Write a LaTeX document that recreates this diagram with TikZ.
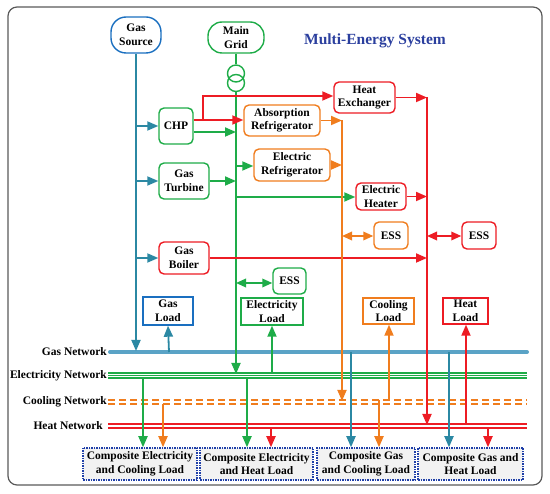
\documentclass[tikz,border=0pt]{standalone}
\usepackage{fontspec}
\setmainfont{Liberation Serif}
\usetikzlibrary{arrows.meta}
\definecolor{cgreen}{RGB}{30,172,72}
\definecolor{cred}{RGB}{237,28,36}
\definecolor{corange}{RGB}{240,125,30}
\definecolor{cteal}{RGB}{43,136,163}
\definecolor{cgasnet}{RGB}{90,163,198}
\definecolor{cblue}{RGB}{26,111,192}
\definecolor{ctitle}{RGB}{43,63,158}
\definecolor{ccomp}{RGB}{31,63,168}
\begin{document}
\begin{tikzpicture}[x=1pt,y=-1pt,
  every node/.style={font=\fontsize{11.5}{13.5}\selectfont\bfseries, align=center, inner sep=0pt},
  rbox/.style={draw, rounded corners=5pt, line width=1.4pt, fill=white},
  sbox/.style={draw, line width=1.4pt, fill=white},
  cbox/.style={draw=ccomp, densely dotted, line width=1.5pt, fill=gray!10, minimum height=32pt},
  ln/.style={line width=1.8pt},
  arr/.style={ln, -{Triangle[length=11pt,width=9pt]}},
  dbl/.style={ln, {Triangle[length=10pt,width=8.5pt]}-{Triangle[length=10pt,width=8.5pt]}},
  netlabel/.style={anchor=east}
]
\useasboundingbox (0,0) rectangle (550,494);
\draw[rounded corners=9pt, line width=1.2pt, gray!70!black] (8,7) rectangle (542,485);

% title
\node[text=ctitle, font=\fontsize{15.5}{18}\selectfont\bfseries] (title) at (375,41) {Multi-Energy System};

% sources
\node[rbox, draw=cblue, rounded corners=15pt, minimum width=50pt, minimum height=36pt] (gs) at (136,35) {Gas\\Source};
\node[rbox, draw=cgreen, rounded corners=14pt, minimum width=56pt, minimum height=31pt] (mg) at (236,37.5) {Main\\Grid};
\node[draw=cgreen, circle, line width=1.4pt, minimum size=17pt] (t1) at (236,73.5) {};
\node[draw=cgreen, circle, line width=1.4pt, minimum size=17pt] (t2) at (236,83) {};

% converters
\node[rbox, draw=cgreen, minimum width=34pt, minimum height=36pt] (chp) at (176,126) {CHP};
\node[rbox, draw=cgreen, minimum width=50pt, minimum height=36pt] (gt) at (184,181) {Gas\\Turbine};
\node[rbox, draw=cred, minimum width=50pt, minimum height=32pt] (gb) at (184,258) {Gas\\Boiler};
\node[rbox, draw=corange, minimum width=76pt, minimum height=31pt] (ar) at (282,120.5) {Absorption\\Refrigerator};
\node[rbox, draw=corange, minimum width=76pt, minimum height=32pt] (er) at (292,165) {Electric\\Refrigerator};
\node[rbox, draw=cred, minimum width=61pt, minimum height=31pt] (hx) at (364.5,97.5) {Heat\\Exchanger};
\node[rbox, draw=cred, minimum width=50pt, minimum height=27pt] (eh) at (381,196.5) {Electric\\Heater};
\node[rbox, draw=corange, minimum width=34pt, minimum height=27pt] (essc) at (391,235.5) {ESS};
\node[rbox, draw=cred, minimum width=34pt, minimum height=27pt] (essh) at (479,235.5) {ESS};
\node[rbox, draw=cgreen, minimum width=33pt, minimum height=26pt] (esse) at (289.5,281) {ESS};

% loads
\node[sbox, draw=cblue, minimum width=50pt, minimum height=28pt] (gl) at (168,311) {Gas\\Load};
\node[sbox, draw=cgreen, minimum width=62pt, minimum height=27pt] (el) at (272,311.5) {Electricity\\Load};
\node[sbox, draw=corange, minimum width=51pt, minimum height=26pt] (cl) at (388.5,311) {Cooling\\Load};
\node[sbox, draw=cred, minimum width=45pt, minimum height=26pt] (hl) at (465.5,311) {Heat\\Load};

% composite loads
\node[cbox, minimum width=114pt] (c1) at (140,464) {Composite Electricity\\and Cooling Load};
\node[cbox, minimum width=113pt] (c2) at (256.5,464) {Composite Electricity\\and Heat Load};
\node[cbox, minimum width=98pt] (c3) at (366,464) {Composite Gas\\and Cooling Load};
\node[cbox, minimum width=105pt] (c4) at (470.5,464) {Composite Gas and\\Heat Load};

% networks
\coordinate (gnL) at (110,352); \coordinate (gnR) at (527,352);
\draw[cgasnet, line width=4pt, line cap=round] (gnL) -- (gnR);
\foreach \y in {373,375.5,378} \draw[cgreen, line width=1.1pt] (108,\y) -- (527,\y);
\foreach \y in {400,404} \draw[corange, line width=1.7pt, dash pattern=on 7pt off 4pt] (108,\y) -- (527,\y);
\foreach \y in {424,428} \draw[cred, line width=1.7pt] (108,\y) -- (527,\y);
\node[netlabel] (lgas) at (107,352) {Gas Network};
\node[netlabel] (lele) at (107,376) {Electricity Network};
\node[netlabel] (lcool) at (107,402) {Cooling Network};
\node[netlabel] (lheat) at (103,426) {Heat Network};

% gas connectors
\draw[arr, cteal] (gs.south) -- (136,351);
\draw[arr, cteal] (136,126) -- (chp.west);
\draw[arr, cteal] (136,181) -- (gt.west);
\draw[arr, cteal] (136,258) -- (gb.west);
\draw[arr, cteal] (169,352) -- (gl.south);
\draw[arr, cteal] (351,352) -- (c3.north -| 351,0);
\draw[arr, cteal] (449,352) -- (c4.north -| 449,0);

% electricity connectors
\draw[ln, cgreen] (mg.south) -- (t1.north);
\draw[arr, cgreen] (t2.south) -- (236,374);
\draw[arr, cgreen] (chp.east |- 0,132) -- (236,132);
\draw[arr, cgreen] (gt.east) -- (236,181);
\draw[arr, cgreen] (236,166) -- (er.west |- 0,166);
\draw[arr, cgreen] (236,197) -- (eh.west |- 0,197);
\draw[dbl, cgreen] (236,283) -- (esse.west |- 0,283);
\draw[arr, cgreen] (272,373) -- (el.south);
\draw[arr, cgreen] (143,378) -- (c1.north -| 143,0);
\draw[arr, cgreen] (247,378) -- (c2.north -| 247,0);

% heat connectors
\draw[arr, cred] (chp.east |- 0,120) -- (ar.west |- 0,120);
\draw[arr, cred] (203,120) -- (203,96) -- (hx.west |- 0,96);
\draw[arr, cred] (hx.east) -- (427,97.5);
\draw[arr, cred] (427,97.5) -- (427,425);
\draw[arr, cred] (eh.east) -- (427,196.5);
\draw[arr, cred] (gb.east) -- (427,258);
\draw[dbl, cred] (427,236) -- (essh.west |- 0,236);
\draw[arr, cred] (466,424) -- (hl.south -| 466,0);
\draw[arr, cred] (271,428) -- (c2.north -| 271,0);
\draw[arr, cred] (488,428) -- (c4.north -| 488,0);

% cooling connectors
\draw[arr, corange] (ar.east) -- (342,120.5);
\draw[arr, corange] (342,120.5) -- (342,401);
\draw[arr, corange] (er.east) -- (342,165);
\draw[dbl, corange] (342,236) -- (essc.west |- 0,236);
\draw[arr, corange] (389,400) -- (cl.south -| 389,0);
\draw[arr, corange] (163,404) -- (c1.north -| 163,0);
\draw[arr, corange] (379,400) -- (c3.north -| 379,0);
\end{tikzpicture}
\end{document}
